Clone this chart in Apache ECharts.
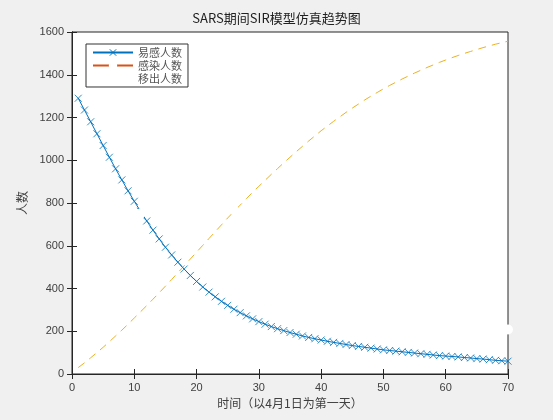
<!DOCTYPE html>
<html><head><meta charset="utf-8">
<script src="https://cdn.jsdelivr.net/npm/echarts@6/dist/echarts.min.js"></script>
<style>html,body{margin:0;padding:0;background:#f0f0f0}#c{width:553px;height:420px}</style>
</head><body><div id="c"></div>
<script>
const days = Array.from({length:70},(_,i)=>i+1);
const susceptible = [1290,1235,1180,1124,1069,1014,960,908,857,808,761,716,673,632,593,557,523,491,461,433,407,383,361,340,321,303,287,272,258,245,233,222,212,203,194,186,178,171,165,159,
153,148,143,138,133,129,125,121,117,113,110,107,104,101,98,95,92,89,86,84,82,80,77,75,72,70,67,64,62,60];
const infected = [500,530,560,590,618,645,670,693,714,733,750,766,779,790,799,806,811,814,815,813,809,803,796,787,777,766,754,741,728,714,700,686,671,656,641,626,611,596,581,566,551,536,521,507,493,479,465,451,438,425,412,400,388,376,
364,352,340,328,317,306,295,285,275,265,255,245,236,227,218,208];
const removed = [30,52,76,100,125,151,178,205,233,262,291,320,350,380,411,442,474,506,538,570,602,634,666,698,730,760,790,820,850,878,906,934,961,988,1014,1040,1065,1090,1114,1138,1160,1182,1203,1224,1244,1263,1282,1300,1317,1334,1350,1365,1380,1394,1408,1421,1434,1446,1458,1469,1480,1490,1500,1509,1518,1527,1535,1543,1550,1557];
const names = ['易感人数','感染人数','移出人数'];
const pair = a => a.map((v,i)=>[days[i],v]);
const ax = '#262626', txt = '#404040';
const font = "'Noto Sans CJK SC','DejaVu Sans',sans-serif";
const baseAxis = {axisLine:{lineStyle:{color:ax}},axisTick:{inside:true,length:5,lineStyle:{color:ax}},splitLine:{show:false},
  axisLabel:{color:txt,fontSize:11,fontFamily:'Liberation Sans',formatter:v=>String(v)}};
const chart = echarts.init(document.getElementById('c'));
chart.setOption({
  backgroundColor:'#f0f0f0', animation:false,
  title:{text:'SARS期间SIR模型仿真趋势图',left:'center',top:7,textStyle:{fontSize:13,fontWeight:'normal',color:'#222',fontFamily:font}},
  grid:{left:72,right:45,top:32,bottom:46,show:true,backgroundColor:'#fff',borderColor:ax},
  legend:{left:86,top:44,orient:'vertical',itemGap:2,itemWidth:40,itemHeight:8,borderColor:'#333',borderWidth:1,backgroundColor:'#fff',padding:[3,6,3,6],
    textStyle:{fontSize:11,color:'#555',fontFamily:font},
    data:[{name:names[0],itemStyle:{borderWidth:1}},{name:names[1],itemStyle:{borderWidth:1,color:'#fff'}},{name:names[2],icon:'none'}]},
  xAxis:[{...baseAxis,type:'value',min:0,max:70,interval:10,name:'时间（以4月1日为第一天）',nameLocation:'middle',nameGap:22,nameTextStyle:{color:txt,fontSize:12,fontFamily:font}},
    {...baseAxis,type:'value',min:0,max:70,interval:10,position:'top',axisLabel:{show:false}}],
  yAxis:[{...baseAxis,type:'value',min:0,max:1600,interval:200,name:'人数',nameLocation:'middle',nameGap:40,nameTextStyle:{color:txt,fontSize:12,fontFamily:font}},
    {...baseAxis,type:'value',min:0,max:1600,interval:200,position:'right',axisLabel:{show:false}}],
  series:[
    {name:names[0],type:'line',data:pair(susceptible),symbol:'path://M0,0L10,10M10,0L0,10',symbolSize:7,
     lineStyle:{color:'#0072BD',width:1},itemStyle:{color:'rgba(0,0,0,0)',borderColor:'#0072BD',borderWidth:0.8},color:'#0072BD'},
    {name:names[1],type:'line',data:pair(infected),symbol:'emptyCircle',symbolSize:8,
     lineStyle:{color:'#D95319',width:1},itemStyle:{color:'#fff',borderColor:'#D95319',borderWidth:0.8},color:'#D95319'},
    {name:names[2],type:'line',data:pair(removed),symbol:'none',
     lineStyle:{color:'#EDB120',width:1,type:[8,6]},color:'#EDB120'}
  ]
});
</script></body></html>
